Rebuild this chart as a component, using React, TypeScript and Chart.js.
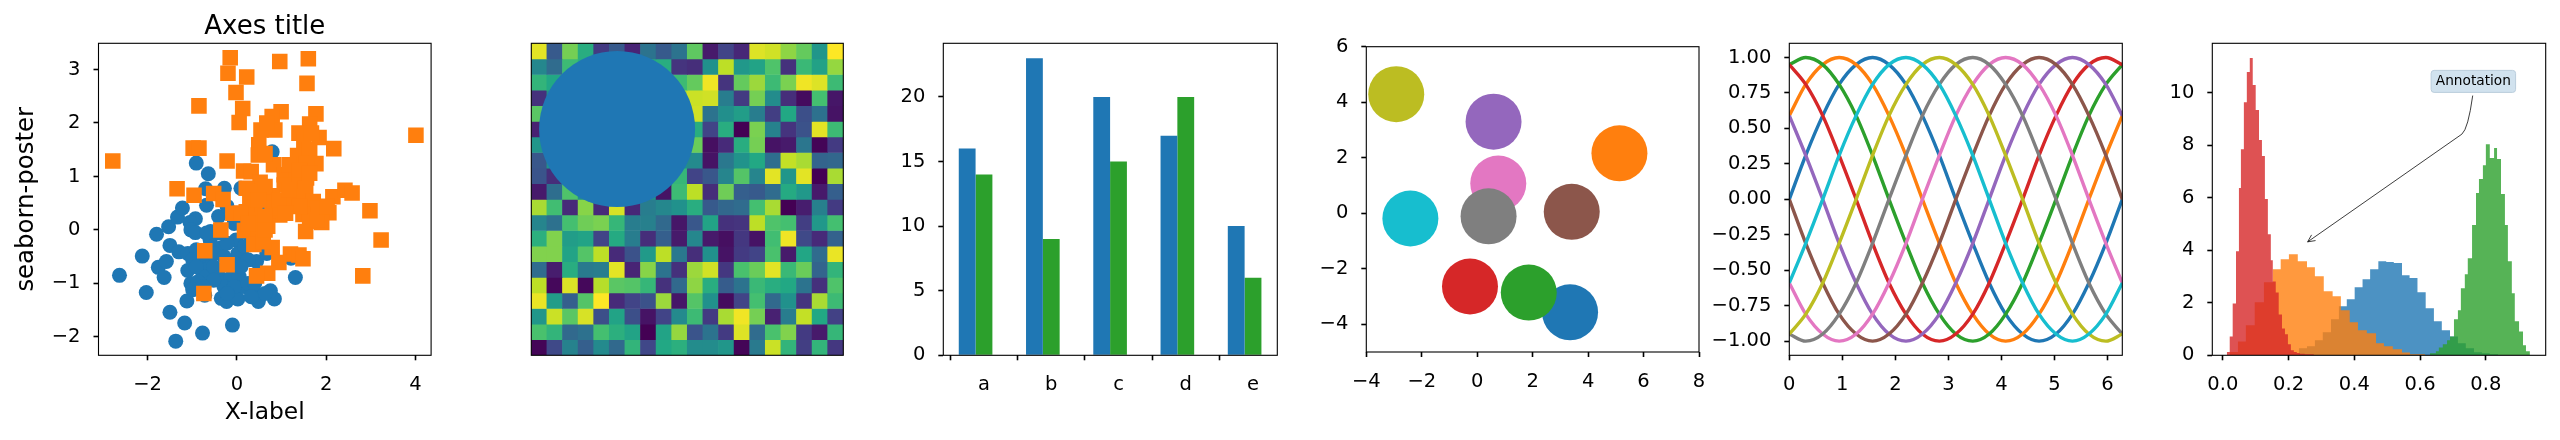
import { useEffect, useRef } from 'react'
import { Chart, registerables } from 'chart.js'

Chart.register(...registerables)
Chart.defaults.font.family = '"DejaVu Sans"'
Chart.defaults.color = '#000'

const tab10 = ['#1f77b4', '#ff7f0e', '#2ca02c', '#d62728', '#9467bd', '#8c564b', '#e377c2', '#7f7f7f', '#bcbd22', '#17becf']
const viridis = ['#440154', '#482475', '#414487', '#355f8d', '#2a788e', '#21918c', '#22a884', '#44bf70', '#7ad151', '#bddf26', '#fde725']

// scatter panel
const blueX = [-2.63, -2.12, -2.03, -1.8, -1.53, -1.5, -1.33, -1.22, -0.93, -1.05, -1.03, -0.93, -0.91, -0.64, -0.7, -0.68, -0.28, 0.09, -0.41, -0.06, -0.59, 0.79, -1.76, -1.63, -1.58, -1.3, -1.1, -0.91, -1.1, -1.03, -0.76, -0.68, -1.12, -0.72, -1.5, -1.17, -1.37, -0.77, -0.1, -0.35, -0.23, 0.02, 0.48, 0.84, 0.75, 0.36, 0.17, -0.37, -0.14, 0.05, 1.31, 0.44, 0.67, 1.21, 0.13, -0.02, -0.37, -0.45, -0.6, 0.02, 0.59, 0.48, -0.22, -0.99, -0.83, -0.68, -0.52, -0.91, -0.68, -0.52, -0.29, -0.06, 0.25, -0.29, -0.06, 0.25, 0.4, 0.63, 0.09, -0.52, -0.87, -0.76, -0.22, 0.17, -0.68, -0.37, 0.25, -0.99, 0.32, -0.22]
const blueY = [-0.85, -0.49, -1.17, -0.08, 0.06, -0.29, 0.24, 0.41, 0.21, 0.14, 0, -0.05, 1.25, 1.05, 0.77, 0.46, 0.78, 0.78, 0.25, 0.12, -0.03, 1.46, -0.7, -0.89, -0.59, -0.41, -0.44, -0.37, -0.76, -1, -0.81, -0.62, -1.33, -1.22, -1.54, -1.74, -2.08, -1.93, -1.78, -1.28, -1.34, -1.29, -1.34, -1.29, -1.14, -1.12, -1.06, -0.9, -0.9, -0.87, -0.89, -0.59, -0.44, -0.53, -0.59, -0.19, -0.34, -0.75, -0.19, -0.44, -0.06, 0.37, 0.44, -0.56, -0.5, -0.44, -0.44, -0.69, -0.87, -0.69, -0.5, -0.62, -0.56, -1.06, -1.06, -1, -1, -1.19, -0.69, -0.94, -0.97, -1.06, -0.25, -0.31, -0.06, -0.06, -0.06, -1.12, -1.25, -1.19]
const orangeX = [-2.78, -0.98, -0.85, -0.85, -0.15, -0.2, 0.22, 0.96, 1.6, 1.57, -0.02, 0.13, 0.05, 0.99, 0.79, 1.77, 1.63, 0.85, 0.54, 1.39, 1.84, 1.5, 4.01, 2.17, 0.49, 0.48, 1.36, 1.63, 1.77, 1.56, -0.22, 0.82, 0.15, 0.32, 1.06, 1.56, 1.33, 0.52, 1.06, 0.21, -1.34, -0.96, -0.52, -0.31, 0.29, 0.79, 1.25, 1.54, 1.21, 1.52, 1.71, 2.15, 2.42, 2.58, 2.98, 2.06, 1.79, 1.48, 0.96, 0.79, 0.4, -0.09, 0.21, 0.09, 1.9, 1.63, 1.54, 0.69, 0.44, 0.17, 0.48, -0.36, 0.38, 0.79, 3.23, 1.2, 1.39, 1.48, 0.94, -0.72, -0.22, 0.69, 0.44, 2.82, -0.74, 0.63, 1.17, 0.36, 0.63, 0.94, 1.4, 0.48, 1.09, 0.63, 1.4, 1.63, 1.17, 1.79, 2.02, 0.25, 0.59, 0.63, 1.67, 0.67]
const orangeY = [1.29, 1.53, 1.53, 2.32, 3.22, 2.93, 2.86, 3.15, 3.2, 2.74, 2.57, 2.27, 2.01, 2.21, 2.12, 2.17, 1.98, 1.87, 1.87, 1.81, 1.73, 1.65, 1.77, 1.52, 1.59, 1.4, 1.39, 1.5, 1.24, 1.25, 1.29, 1.22, 1.1, 1.09, 1.03, 0.97, 0.97, 0.89, 0.84, 0.78, 0.77, 0.65, 0.68, 0.57, 0.62, 0.64, 0.72, 0.78, 0.54, 0.62, 0.53, 0.62, 0.74, 0.69, 0.36, 0.32, 0.41, 0.29, 0.28, 0.41, 0.41, 0.31, 0.34, 0.31, 0.14, 0.16, -0.03, 0.07, 0.19, -0.01, 0, 0, -0.27, -0.33, -0.19, -0.45, -0.47, -0.54, -0.61, -0.39, -0.65, -0.81, -0.86, -0.86, -1.19, 1.43, 1.22, 0.72, 0.81, 0.56, 0.44, 0.56, 0.31, 0.25, 1.12, 1.06, 0.75, 0.19, 0.44, 0.12, -0.22, 0, 1.81, 2]
const scatterTicksX = [-2, 0, 2, 4]
const scatterTicksY = [-2, -1, 0, 1, 2, 3]

// image panel, row 0 on top; the cells under the circle are guesses
const heatColumns = [0, 1, 2, 3, 4, 5, 6, 7, 8, 9, 10, 11, 12, 13, 14, 15, 16, 17, 18, 19]
const heatRows = [
  [0.96, 0.28, 0.79, 0.62, 0.17, 0.28, 0.1, 0.38, 0.28, 0.38, 0.75, 0.07, 0.2, 0.11, 0.95, 0.93, 0.83, 0.76, 0.52, 1],
  [0.46, 0.35, 0.68, 0.62, 0.5, 0.5, 0.5, 0.6, 0.62, 0.15, 0.13, 0.5, 0.9, 0.53, 0.58, 0.72, 0.14, 0.67, 0.57, 0.84],
  [0.65, 0.6, 0.5, 0.5, 0.5, 0.5, 0.5, 0.5, 0.66, 0.68, 0.76, 0.98, 0.15, 0.76, 0.85, 0.68, 0.8, 0.98, 0.95, 0.68],
  [0.14, 0.5, 0.5, 0.5, 0.5, 0.5, 0.5, 0.5, 0.5, 0.88, 0.92, 0.93, 0.42, 0.17, 0.79, 0.48, 0.13, 0.03, 0.7, 0.06],
  [0.74, 0.5, 0.5, 0.5, 0.5, 0.5, 0.5, 0.5, 0.5, 0.9, 0.93, 0.38, 0.49, 0.55, 0.42, 0.18, 0.6, 0.24, 0.37, 0.05],
  [0.09, 0.5, 0.5, 0.5, 0.5, 0.5, 0.5, 0.5, 0.5, 0.5, 0.62, 0.2, 0.62, 0, 0.8, 0.44, 0.15, 0.25, 0.96, 0.68],
  [0.52, 0.5, 0.5, 0.5, 0.5, 0.5, 0.5, 0.5, 0.5, 0.5, 0.77, 0.04, 0.12, 0.62, 0.79, 0.05, 0.07, 0.39, 0.01, 0.17],
  [0.27, 0.5, 0.5, 0.5, 0.5, 0.5, 0.5, 0.5, 0.5, 0.5, 0.47, 0.05, 0.4, 0.51, 0.6, 0.36, 0.91, 0.87, 0.32, 0.33],
  [0.26, 0.13, 0.5, 0.5, 0.5, 0.5, 0.5, 0.5, 0.5, 0.66, 0.2, 0.27, 0.45, 0.73, 0.45, 0.96, 0.52, 0.96, 0, 0.87],
  [0.07, 0.36, 0.72, 0.5, 0.5, 0.5, 0.5, 0.5, 0.05, 0.68, 0.9, 0.13, 0.78, 0.3, 0.28, 0.35, 0.61, 0.53, 0.07, 0.3],
  [0.87, 0.69, 0.12, 0.82, 0.12, 0.94, 0.11, 0.42, 0.46, 0.5, 0.62, 0.28, 0.33, 0.35, 0.7, 0.87, 0, 0.08, 0.43, 0.17],
  [0.45, 0.37, 0.7, 0.78, 0.8, 0.66, 0.42, 0.43, 0.34, 0.06, 0.27, 0.58, 0.14, 0.15, 0.9, 0.72, 0.7, 0.18, 0.53, 0.7],
  [0.63, 0.81, 0.55, 0.58, 0.2, 0.61, 0.42, 0.13, 0.3, 0.07, 0.46, 0.07, 0.04, 0.16, 0.05, 0.69, 0.98, 0.22, 0.12, 0.31],
  [0.81, 0.81, 0.58, 0.73, 0.9, 0.12, 0.25, 0.54, 0.9, 0.4, 0.13, 0.5, 0.05, 0.17, 0.2, 0.71, 0.07, 0.59, 0.35, 0.97],
  [0.35, 0.08, 0.62, 0.41, 0.42, 0.96, 0.1, 0.82, 0.38, 0.14, 0.85, 0.93, 0.16, 0.71, 0.77, 0.96, 0.67, 0.77, 0.32, 0.65],
  [0.9, 0.02, 0.95, 0.02, 0.89, 0.74, 0.73, 0.66, 0.14, 0.34, 0.83, 0.62, 0.29, 0.38, 0.67, 0.62, 0.6, 0.38, 0.14, 0.72],
  [0.97, 0.55, 0.3, 0.73, 1, 0.12, 0.2, 0.25, 0.85, 0.06, 0.73, 0.5, 0.03, 0.2, 0.7, 0.34, 0.5, 0.15, 0.87, 0.68],
  [0.52, 0.92, 0.74, 0.94, 0.24, 0.58, 0.24, 0.05, 0.2, 0.47, 0.68, 0.17, 0.87, 0.98, 0.79, 0.09, 0.42, 0.91, 0.6, 0.19],
  [0.71, 0.65, 0.34, 0.37, 0.7, 0.63, 0.58, 0, 0.58, 0.84, 0.26, 0.38, 0.17, 0.95, 0.35, 0.71, 0.81, 0.17, 0.07, 0.66],
  [0.01, 0.22, 0.44, 0.3, 0.47, 0.34, 0.65, 0.21, 0.6, 0.63, 0.48, 0.48, 0.52, 0.01, 0.41, 0.92, 0.65, 0.18, 0.65, 0.16],
]
const imageCircle = { x: 5, y: 5.5 }

// bar panel
const barLabels = ['a', 'b', 'c', 'd', 'e']
const barBlue = [16, 23, 20, 17, 10]
const barGreen = [14, 9, 15, 20, 6]
const barTicksY = [0, 5, 10, 15, 20]

// circles panel
const circleX = [3.35, 5.13, 1.86, -0.26, 0.59, 3.41, 0.76, 0.41, -2.92, -2.41]
const circleY = [-3.57, 2.16, -2.86, -2.64, 3.3, 0.05, 1.07, -0.11, 4.29, -0.19]
const circleTicksX = [-4, -2, 0, 2, 4, 6, 8]
const circleTicksY = [-4, -2, 0, 2, 4, 6]

// sine panel
const waveX = [0, 0.31, 0.63, 0.94, 1.26, 1.57, 1.88, 2.2, 2.51, 2.83, 3.14, 3.46, 3.77, 4.08, 4.4, 4.71, 5.03, 5.34, 5.65, 5.97, 6.28]
const waveBlue = [0, 0.31, 0.59, 0.81, 0.95, 1, 0.95, 0.81, 0.59, 0.31, 0, -0.31, -0.59, -0.81, -0.95, -1, -0.95, -0.81, -0.59, -0.31, 0]
const waveOrange = [0.59, 0.81, 0.95, 1, 0.95, 0.81, 0.59, 0.31, 0, -0.31, -0.59, -0.81, -0.95, -1, -0.95, -0.81, -0.59, -0.31, 0, 0.31, 0.59]
const waveGreen = [0.95, 1, 0.95, 0.81, 0.59, 0.31, 0, -0.31, -0.59, -0.81, -0.95, -1, -0.95, -0.81, -0.59, -0.31, 0, 0.31, 0.59, 0.81, 0.95]
const waveRed = [0.95, 0.81, 0.59, 0.31, 0, -0.31, -0.59, -0.81, -0.95, -1, -0.95, -0.81, -0.59, -0.31, 0, 0.31, 0.59, 0.81, 0.95, 1, 0.95]
const wavePurple = [0.59, 0.31, 0, -0.31, -0.59, -0.81, -0.95, -1, -0.95, -0.81, -0.59, -0.31, 0, 0.31, 0.59, 0.81, 0.95, 1, 0.95, 0.81, 0.59]
const waveBrown = [0, -0.31, -0.59, -0.81, -0.95, -1, -0.95, -0.81, -0.59, -0.31, 0, 0.31, 0.59, 0.81, 0.95, 1, 0.95, 0.81, 0.59, 0.31, 0]
const wavePink = [-0.59, -0.81, -0.95, -1, -0.95, -0.81, -0.59, -0.31, 0, 0.31, 0.59, 0.81, 0.95, 1, 0.95, 0.81, 0.59, 0.31, 0, -0.31, -0.59]
const waveGray = [-0.95, -1, -0.95, -0.81, -0.59, -0.31, 0, 0.31, 0.59, 0.81, 0.95, 1, 0.95, 0.81, 0.59, 0.31, 0, -0.31, -0.59, -0.81, -0.95]
const waveOlive = [-0.95, -0.81, -0.59, -0.31, 0, 0.31, 0.59, 0.81, 0.95, 1, 0.95, 0.81, 0.59, 0.31, 0, -0.31, -0.59, -0.81, -0.95, -1, -0.95]
const waveCyan = [-0.59, -0.31, 0, 0.31, 0.59, 0.81, 0.95, 1, 0.95, 0.81, 0.59, 0.31, 0, -0.31, -0.59, -0.81, -0.95, -1, -0.95, -0.81, -0.59]
const waveTicksX = [0, 1, 2, 3, 4, 5, 6]
const waveTicksY = [-1, -0.75, -0.5, -0.25, 0, 0.25, 0.5, 0.75, 1]

// histogram panel: bin edges and heights, one more edge than height
const histBlueEdges = [0.231, 0.256, 0.28, 0.304, 0.329, 0.353, 0.377, 0.401, 0.425, 0.448, 0.473, 0.497, 0.52, 0.545, 0.568, 0.592, 0.617, 0.642, 0.666, 0.691, 0.715, 0.739, 0.764, 0.788, 0.812, 0.837]
const histBlue = [0.27, 0.34, 0.57, 0.88, 1.37, 1.87, 2.13, 2.59, 2.9, 3.28, 3.58, 3.55, 3.51, 3.05, 2.94, 2.4, 1.79, 1.3, 0.95, 0.72, 0.46, 0.27, 0.12, 0.08, 0.04]
const histOrangeEdges = [0.021, 0.046, 0.07, 0.097, 0.125, 0.152, 0.176, 0.201, 0.228, 0.256, 0.28, 0.307, 0.334, 0.359, 0.386, 0.411, 0.438, 0.466, 0.49, 0.517, 0.545, 0.569, 0.615]
const histOrange = [0.13, 0.53, 1.14, 2.02, 2.78, 3.28, 3.66, 3.85, 3.58, 3.35, 3.01, 2.44, 2.25, 1.72, 1.26, 0.95, 0.84, 0.46, 0.34, 0.23, 0.11, 0.04]
const histGreenEdges = [0.63, 0.648, 0.657, 0.669, 0.682, 0.691, 0.703, 0.715, 0.724, 0.736, 0.745, 0.758, 0.77, 0.779, 0.791, 0.8, 0.812, 0.825, 0.834, 0.846, 0.858, 0.867, 0.879, 0.888, 0.901, 0.913, 0.922, 0.934]
const histGreen = [0.08, 0.15, 0.3, 0.42, 0.57, 0.72, 1.37, 1.72, 2.55, 3.09, 3.7, 4.96, 6.18, 6.71, 7.24, 8.04, 7.51, 7.89, 7.47, 6.14, 4.96, 3.58, 2.36, 1.3, 0.91, 0.38, 0.15]
const histRedEdges = [0.012, 0.021, 0.03, 0.04, 0.049, 0.055, 0.064, 0.073, 0.082, 0.091, 0.1, 0.11, 0.119, 0.128, 0.137, 0.146, 0.152, 0.161, 0.17, 0.18, 0.189, 0.198, 0.207, 0.216, 0.225, 0.234, 0.249, 0.277]
const histRed = [0.127, 0.72, 1.97, 3.96, 6.37, 7.85, 9.64, 10.79, 11.32, 10.29, 9.34, 8.2, 7.59, 5.95, 4.61, 3.62, 2.81, 2.39, 1.55, 1.02, 0.8, 0.42, 0.19, 0.13, 0.09, 0.06, 0.04]
const histTicksX = [0, 0.2, 0.4, 0.6, 0.8]
const histTicksY = [0, 2, 4, 6, 8, 10]

const annotationText = 'Annotation'
const annotationAt = { x: 0.762, y: 10.43 }
const arrowStart = { x: 0.76, y: 9.89 }
const arrowBend = { x: 0.746, y: 8.62 }
const arrowCorner = { x: 0.727, y: 8.42 }
const arrowTip = { x: 0.258, y: 4.32 }

const PAGE_H = 440
const TICK_FONT = 19.5

function heatColor(v: number) {
  const pos = v * (viridis.length - 1)
  const i = Math.min(Math.floor(pos), viridis.length - 2)
  const t = pos - i
  const ch = (hex: string, at: number) => parseInt(hex.slice(at, at + 2), 16)
  const mix = (at: number) => Math.round(ch(viridis[i], at) * (1 - t) + ch(viridis[i + 1], at) * t)
  return `rgb(${mix(1)},${mix(3)},${mix(5)})`
}

const minus = (s: string) => s.replace('-', '\u2212')

// frame around the plot area, matplotlib style
const framePlugin = {
  id: 'frame',
  afterDatasetsDraw(chart: Chart) {
    const { left, top, width, height } = chart.chartArea
    const ctx = chart.ctx
    ctx.save()
    ctx.strokeStyle = '#000'
    ctx.lineWidth = 1.1
    ctx.strokeRect(left, top, width, height)
    ctx.restore()
  },
}

const annotationPlugin = {
  id: 'annotation',
  afterDatasetsDraw(chart: Chart) {
    const { x, y } = chart.scales
    const ctx = chart.ctx
    const px = (p: { x: number; y: number }) => [x.getPixelForValue(p.x), y.getPixelForValue(p.y)]
    const [sx, sy] = px(arrowStart)
    const [bx, by] = px(arrowBend)
    const [cx, cy] = px(arrowCorner)
    const [tx, ty] = px(arrowTip)
    ctx.save()
    ctx.strokeStyle = 'rgba(0,0,0,0.85)'
    ctx.lineWidth = 0.9
    ctx.beginPath()
    ctx.moveTo(sx, sy)
    ctx.quadraticCurveTo(bx, by, cx, cy)
    ctx.lineTo(tx, ty)
    const angle = Math.atan2(cy - ty, cx - tx)
    for (const side of [-0.45, 0.45]) {
      ctx.moveTo(tx, ty)
      ctx.lineTo(tx + 8 * Math.cos(angle + side), ty + 8 * Math.sin(angle + side))
    }
    ctx.stroke()

    const [ax, ay] = px(annotationAt)
    ctx.font = '13.7px "DejaVu Sans"'
    const boxW = ctx.measureText(annotationText).width + 9.4
    ctx.beginPath()
    ctx.roundRect(ax - boxW / 2, ay - 11, boxW, 22, 3)
    ctx.fillStyle = 'rgb(209,226,238)'
    ctx.fill()
    ctx.strokeStyle = 'rgb(186,205,220)'
    ctx.lineWidth = 1
    ctx.stroke()
    ctx.fillStyle = '#000'
    ctx.textAlign = 'center'
    ctx.textBaseline = 'middle'
    ctx.fillText(annotationText, ax, ay)
    ctx.restore()
  },
}

type Slice = { left: number; width: number }
type Box = { left: number; right: number; top: number; bottom: number }

function axis(size: number, min: number, max: number, values: number[], format: (v: number) => string, extra: object = {}) {
  return {
    type: 'linear',
    min,
    max,
    afterFit: (s: any) => {
      if (s.isHorizontal()) s.height = size
      else s.width = size
    },
    afterBuildTicks: (s: any) => {
      s.ticks = values.map((value) => ({ value }))
    },
    border: { display: false },
    grid: { drawOnChartArea: false, drawTicks: true, tickLength: 5, tickWidth: 1.6, tickColor: '#000' },
    ticks: {
      autoSkip: false,
      maxRotation: 0,
      minRotation: 0,
      padding: 13,
      font: { size: TICK_FONT },
      callback: (v: number) => format(v),
    },
    ...extra,
  }
}

function baseOptions(slice: Slice, box: Box, scales: object, plugins: object = {}, paddingTop?: number) {
  return {
    responsive: false,
    animation: false,
    events: [],
    layout: {
      autoPadding: false,
      padding: { top: paddingTop ?? box.top, right: slice.left + slice.width - box.right, left: 0, bottom: 0 },
    },
    plugins: { legend: { display: false }, tooltip: { enabled: false }, ...plugins },
    scales,
  }
}

const xHeight = (box: Box) => PAGE_H - box.bottom
const yWidth = (slice: Slice, box: Box) => box.left - slice.left

const intLabel = (v: number) => minus(String(v))

const TOP = 43.3
const BOTTOM = 355.3

const panels: { slice: Slice; make: (slice: Slice) => any }[] = [
  {
    slice: { left: 0, width: 470 },
    make: (slice) => {
      const box = { left: 98.5, right: 431.1, top: TOP, bottom: BOTTOM }
      return {
        type: 'scatter',
        data: {
          datasets: [
            {
              data: orangeX.map((x, i) => ({ x, y: orangeY[i] })),
              backgroundColor: tab10[1],
              pointStyle: 'rect',
              pointRadius: 11,
              pointBorderWidth: 0,
            },
            {
              data: blueX.map((x, i) => ({ x, y: blueY[i] })),
              backgroundColor: tab10[0],
              pointRadius: 7.5,
              pointBorderWidth: 0,
            },
          ],
        },
        options: baseOptions(
          slice,
          box,
          {
            x: axis(xHeight(box), -3.1, 4.35, scatterTicksX, intLabel, {
              title: { display: true, text: 'X-label', font: { size: 23.4 }, color: '#000', padding: { top: 0, bottom: 13 } },
            }),
            y: axis(yWidth(slice, box), -2.345, 3.49, scatterTicksY, intLabel, {
              title: { display: true, text: 'seaborn-poster', font: { size: 24.4 }, color: '#000', padding: { top: 12, bottom: 0 } },
            }),
          },
          {
            title: {
              display: true,
              text: 'Axes title',
              fullSize: false,
              color: '#000',
              font: { size: 26, weight: 'normal' },
              padding: { top: 11.5, bottom: 0.6 },
            },
          },
          0,
        ),
        plugins: [framePlugin],
      }
    },
  },
  {
    slice: { left: 470, width: 410 },
    make: (slice) => {
      const box = { left: 531.3, right: 843.3, top: TOP, bottom: BOTTOM }
      return {
        type: 'bar',
        data: {
          labels: heatColumns,
          datasets: [
            {
              type: 'scatter',
              order: 0,
              data: [imageCircle],
              showLine: false,
              backgroundColor: tab10[0],
              pointRadius: 78,
              pointBorderWidth: 0,
            },
            ...heatRows.map((row) => ({
              order: 1,
              data: row.map(() => 1),
              backgroundColor: row.map(heatColor),
              borderWidth: 0,
              inflateAmount: 0.33,
              barPercentage: 1,
              categoryPercentage: 1,
            })),
          ],
        },
        options: baseOptions(slice, box, {
          x: {
            type: 'category',
            stacked: true,
            offset: true,
            afterFit: (s: any) => { s.height = xHeight(box) },
            border: { display: false },
            grid: { display: false },
            ticks: { display: false },
          },
          y: {
            type: 'linear',
            stacked: true,
            reverse: true,
            min: 0,
            max: 20,
            afterFit: (s: any) => { s.width = yWidth(slice, box) },
            border: { display: false },
            grid: { display: false },
            ticks: { display: false },
          },
        }),
        plugins: [framePlugin],
      }
    },
  },
  {
    slice: { left: 880, width: 420 },
    make: (slice) => {
      const box = { left: 943.3, right: 1277.3, top: TOP, bottom: BOTTOM }
      // the pair sits left of its tick: the tick is under the green bar
      const place = (values: number[]) => values.map((y, i) => ({ x: i - 0.125, y }))
      return {
        type: 'bar',
        data: {
          datasets: [
            { data: place(barBlue), backgroundColor: tab10[0], barPercentage: 1, categoryPercentage: 0.5 },
            { data: place(barGreen), backgroundColor: tab10[2], barPercentage: 1, categoryPercentage: 0.5 },
          ],
        },
        options: baseOptions(slice, box, {
          x: axis(xHeight(box), -0.605, 4.361, [0, 1, 2, 3, 4], (v) => barLabels[v], { offset: false }),
          y: axis(yWidth(slice, box), 0, 24.15, barTicksY, intLabel),
        }),
        plugins: [framePlugin],
      }
    },
  },
  {
    slice: { left: 1300, width: 435 },
    make: (slice) => {
      const box = { left: 1366.3, right: 1699, top: 46.7, bottom: 352 }
      return {
        type: 'scatter',
        data: {
          datasets: circleX.map((x, i) => ({
            order: circleX.length - i,
            data: [{ x, y: circleY[i] }],
            backgroundColor: tab10[i],
            pointRadius: 28,
            pointBorderWidth: 0,
          })),
        },
        options: baseOptions(slice, box, {
          x: axis(PAGE_H - box.bottom, -4, 8, circleTicksX, intLabel),
          y: axis(yWidth(slice, box), -5, 6, circleTicksY, intLabel),
        }),
        plugins: [framePlugin],
      }
    },
  },
  {
    slice: { left: 1700, width: 450 },
    make: (slice) => {
      const box = { left: 1789.3, right: 2122.3, top: TOP, bottom: BOTTOM }
      const waves = [waveBlue, waveOrange, waveGreen, waveRed, wavePurple, waveBrown, wavePink, waveGray, waveOlive, waveCyan]
      return {
        type: 'line',
        data: {
          datasets: waves.map((wave, i) => ({
            order: waves.length - i,
            data: wave.map((y, k) => ({ x: waveX[k], y })),
            borderColor: tab10[i],
            borderWidth: 3.4,
            pointRadius: 0,
            cubicInterpolationMode: 'monotone',
          })),
        },
        options: baseOptions(slice, box, {
          x: axis(xHeight(box), 0, 6.28, waveTicksX, intLabel),
          y: axis(yWidth(slice, box), -1.1, 1.1, waveTicksY, (v) => minus(v.toFixed(2))),
        }),
        plugins: [framePlugin],
      }
    },
  },
  {
    slice: { left: 2150, width: 410 },
    make: (slice) => {
      const box = { left: 2212.3, right: 2545.7, top: TOP, bottom: BOTTOM }
      const steps = (edges: number[], heights: number[]) =>
        edges.map((x, i) => ({ x, y: i < heights.length ? heights[i] : 0 }))
      const hists = [
        steps(histBlueEdges, histBlue),
        steps(histOrangeEdges, histOrange),
        steps(histGreenEdges, histGreen),
        steps(histRedEdges, histRed),
      ]
      const fills = ['rgba(31,119,180,0.8)', 'rgba(255,127,14,0.8)', 'rgba(44,160,44,0.8)', 'rgba(214,39,40,0.8)']
      return {
        type: 'line',
        data: {
          datasets: hists.map((data, i) => ({
            order: hists.length - i,
            data,
            stepped: 'before',
            fill: 'origin',
            backgroundColor: fills[i],
            borderWidth: 0,
            pointRadius: 0,
          })),
        },
        options: baseOptions(slice, box, {
          x: axis(xHeight(box), -0.032, 0.982, histTicksX, (v) => v.toFixed(1)),
          y: axis(yWidth(slice, box), 0, 11.88, histTicksY, intLabel),
        }),
        plugins: [framePlugin, annotationPlugin],
      }
    },
  },
]

function Panel({ slice, make }: { slice: Slice; make: (slice: Slice) => any }) {
  const canvasRef = useRef<HTMLCanvasElement>(null)

  useEffect(() => {
    if (!canvasRef.current) return
    const chart = new Chart(canvasRef.current, make(slice))
    return () => chart.destroy()
  }, [slice, make])

  return (
    <canvas
      ref={canvasRef}
      width={slice.width}
      height={PAGE_H}
      style={{ position: 'absolute', left: slice.left, top: 0, width: slice.width, height: PAGE_H }}
    />
  )
}

export default function App() {
  return (
    <div style={{ position: 'absolute', left: 0, top: 0, width: 2560, height: PAGE_H, background: '#fff', overflow: 'hidden' }}>
      {panels.map((p, i) => (
        <Panel key={i} slice={p.slice} make={p.make} />
      ))}
    </div>
  )
}
